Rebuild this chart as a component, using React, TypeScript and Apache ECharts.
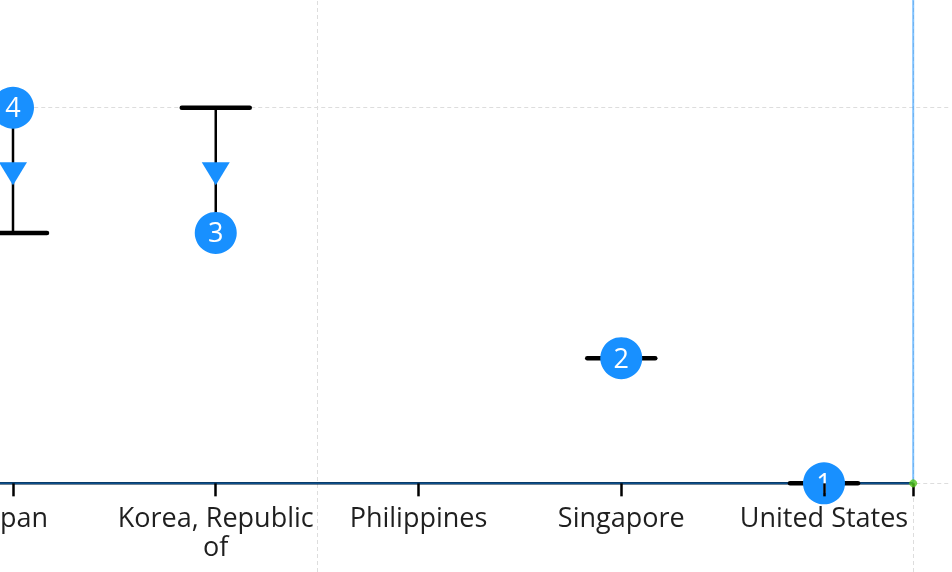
import React, { useEffect, useRef } from "react";
import * as echarts from "echarts";

const categories = ["Japan", "Korea, Republic\nof", "Philippines", "Singapore", "United States"];
const positions = [0, 1, 2, 3, 4];
const ranks = [4, 3, null, 2, 1];
const previous = [3, 4, null, 2, 1];
const dividerValues = [1.5, 4.44];
const levelValues = [0, 3];
const traceX = [4.44, 4.44, -1];
const traceY = [3.86, 0, 0];
const baselineX = [-1, 4.44];
const baselineY = [0, 0];
const markerPoint = [[4.44, 0]];

const BLUE = "#1890ff";
const FONT = '"Open Sans", "Noto Sans", sans-serif';

function renderWhisker(params: any, api: any) {
  const x = api.value(0);
  const level = api.value(1);
  const prev = api.value(2);
  const rank = api.value(3);
  const c = api.coord([x, level]);
  const p = api.coord([x, prev]);
  const children: any[] = [];
  children.push({
    type: "line",
    shape: { x1: c[0], y1: c[1], x2: p[0], y2: p[1] },
    style: { stroke: "#000", lineWidth: 2.5 },
  });
  children.push({
    type: "line",
    shape: { x1: p[0] - 34, y1: p[1], x2: p[0] + 34, y2: p[1] },
    style: { stroke: "#000", lineWidth: 4.5, lineCap: "round" },
  });
  if (level !== prev) {
    const my = (c[1] + p[1]) / 2;
    children.push({
      type: "polygon",
      shape: { points: [[c[0] - 14, my - 8], [c[0] + 14, my - 8], [c[0], my + 15]] },
      style: { fill: BLUE },
    });
  }
  children.push({
    type: "circle",
    shape: { cx: c[0], cy: c[1], r: 21 },
    style: { fill: BLUE },
  });
  children.push({
    type: "text",
    style: {
      x: c[0],
      y: c[1] - 1,
      text: String(rank),
      fill: "#fff",
      font: `27px ${FONT}`,
      align: "center",
      verticalAlign: "middle",
    },
  });
  return { type: "group", children };
}

export default function App() {
  const ref = useRef<HTMLDivElement>(null);
  useEffect(() => {
    document.body.style.margin = "0";
    const chart = echarts.init(ref.current!, undefined, { renderer: "svg" });
    const whiskers = positions
      .map((x, i) => [x, ranks[i] === null ? null : (ranks[i] as number) - 1, previous[i] === null ? null : (previous[i] as number) - 1, ranks[i]])
      .filter((d) => d[1] !== null);
    chart.setOption({
      animation: false,
      grid: { left: -189.75, right: 2.3, top: 0, bottom: 0, outerBoundsMode: "none", containLabel: false },
      xAxis: {
        type: "value",
        min: -1,
        max: 4.62,
        splitLine: { show: false },
        z: 10,
        position: "bottom",
        axisLine: { show: true, onZero: true, lineStyle: { color: "#000", width: 0, opacity: 0 } },
        axisTick: {
          show: true,
          length: 13,
          customValues: [...positions, dividerValues[1]],
          lineStyle: { color: "#000", width: 2.5 },
        },
        axisLabel: {
          show: true,
          customValues: positions,
          hideOverlap: false,
          showMinLabel: true,
          showMaxLabel: true,
          margin: -70,
          fontFamily: FONT,
          fontSize: 27,
          lineHeight: 29,
          color: "rgba(0,0,0,0.88)",
          verticalAlign: "top",
          formatter: (v: number) => categories[Math.round(v)] ?? "",
        },
      },
      yAxis: { type: "value", min: -0.708, max: 3.86, show: false, splitLine: { show: false } },
      series: [
        {
          type: "line",
          data: baselineX.map((x, i) => [x, baselineY[i]]),
          symbol: "none",
          z: 1,
          lineStyle: { color: "#000", width: 2.5 },
        },
        {
          type: "line",
          data: traceX.map((x, i) => [x, traceY[i]]),
          symbol: "none",
          z: 2,
          lineStyle: { color: BLUE, width: 2, opacity: 0.55 },
          markLine: {
            silent: true,
            z: 0,
            symbol: "none",
            label: { show: false },
            lineStyle: { color: "#dddddd", width: 1, type: [4, 3] },
            data: [
              ...dividerValues.map((v) => ({ xAxis: v })),
              ...levelValues.map((v) => ({ yAxis: v })),
            ],
          },
        },
        {
          type: "scatter",
          data: markerPoint,
          symbol: "circle",
          symbolSize: 8,
          z: 11,
          itemStyle: { color: "#52c41a" },
        },
        {
          type: "custom",
          data: whiskers,
          renderItem: renderWhisker,
          clip: false,
          z: 5,
        },
      ],
    });
    return () => chart.dispose();
  }, []);
  return <div ref={ref} style={{ position: "fixed", left: 0, top: 0, width: 952, height: 572 }} />;
}
